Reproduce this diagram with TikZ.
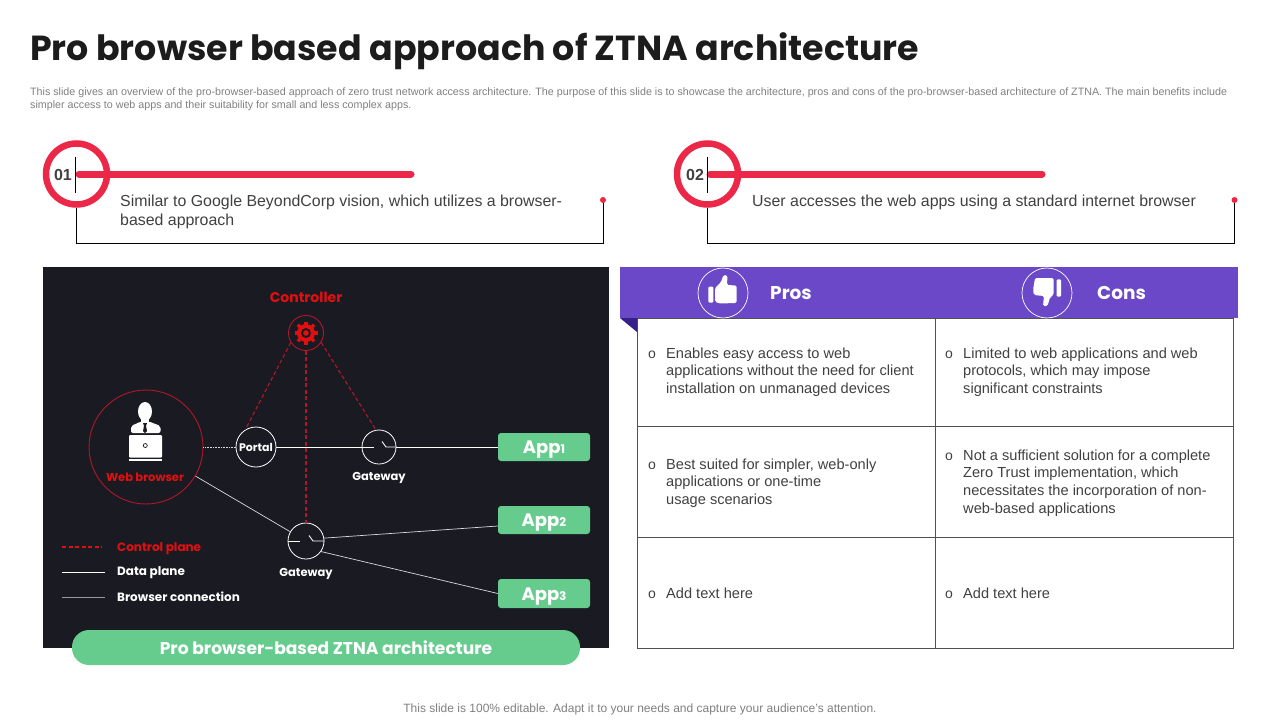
\documentclass[tikz,border=0pt]{standalone}
\usepackage{fontspec}
\usepackage{tikz}
\usetikzlibrary{positioning}
\setmainfont{Liberation Sans}
\newfontfamily\headfont{Poppins}
\definecolor{TitleBlack}{HTML}{1C1C1C}
\definecolor{BodyGray}{HTML}{404040}
\definecolor{NoteGray}{HTML}{7F7F7F}
\definecolor{StepRed}{HTML}{EC2848}
\definecolor{PanelDark}{HTML}{1A1A22}
\definecolor{AppGreen}{HTML}{66CC8E}
\definecolor{CtrlRed}{HTML}{E01010}
\definecolor{CtrlLine}{HTML}{B01828}
\definecolor{BandPurple}{HTML}{6A48C8}
\definecolor{FoldPurple}{HTML}{35208A}
\definecolor{GridGray}{HTML}{505050}
\newcommand{\px}[1]{\fontsize{#1}{#1}\selectfont}
\newcommand{\switchMark}[1]{%
\draw[dataline] (#1.west) -- ++(12,0);
\draw[dataline] ([shift={(3,-5.5)}]#1.center) -- ([shift={(7,0)}]#1.center) -- (#1.east);
}
\tikzset{
  every node/.style={inner sep=0pt},
  para/.style={anchor=north west, align=left, text=BodyGray, font=\px{14.6}, execute at begin node=\setlength{\baselineskip}{17.6pt}},
  steptext/.style={anchor=north west, align=left, text=BodyGray, font=\px{15.9}, execute at begin node=\setlength{\baselineskip}{19pt}},
  bullet/.style={anchor=center, text=BodyGray, font=\px{14}},
  stepring/.style={circle, draw=StepRed, line width=6.5pt, minimum size=61pt},
  stepbar/.style={draw=StepRed, line width=7pt, line cap=round},
  stepframe/.style={draw=black, line width=0.8pt},
  stepdot/.style={circle, fill=StepRed, minimum size=6pt},
  darklabel/.style={text=white, font=\headfont\bfseries\px{11.5}},
  redlabel/.style={text=CtrlRed, font=\headfont\bfseries\px{11.5}},
  hub/.style={circle, draw=white, line width=0.8pt, fill=PanelDark},
  appbox/.style={fill=AppGreen, rounded corners=3pt, minimum width=92pt, text=white, font=\headfont\bfseries\px{18}, text height=13.5pt, text depth=0pt},
  dataline/.style={draw=white, line width=0.9pt},
  browserline/.style={draw=white!85!black, line width=0.7pt},
  ctrlline/.style={draw=CtrlLine, line width=1.1pt, dash pattern=on 4pt off 2.5pt},
  bandlabel/.style={text=white, font=\headfont\bfseries\px{18.5}, anchor=west},
  iconring/.style={circle, draw=white, line width=0.7pt, minimum size=50pt},
}
\begin{document}
\begin{tikzpicture}[x=1pt, y=-1pt]
\useasboundingbox (0,0) rectangle (1280,720);

% Title and description
\node[anchor=west, text=TitleBlack, font=\headfont\bfseries\px{34.8}] (title) at (30,51.5) {Pro browser based approach of ZTNA architecture};
\node[anchor=north west, align=left, text=NoteGray, font=\px{10.7}, execute at begin node=\setlength{\baselineskip}{13pt}] (intro) at (30,87.5)
{This slide gives an overview of the pro-browser-based approach of zero trust network access architecture. The purpose of this slide is to showcase the architecture, pros and cons of the pro-browser-based architecture of ZTNA. The main benefits include\\
simpler access to web apps and their suitability for small and less complex apps.};

% Step 01
\def \yBar {174}
\draw[stepframe] (76.5,208) -- (76.5,243) -- (603,243) -- (603,200);
\draw[stepbar] (79,\yBar) -- (411,\yBar);
\node[stepring] (ringA) at (76.5,\yBar) {};
\node[font=\bfseries\px{16}, text=BodyGray] (numA) at (63,175) {01};
\draw[black, line width=0.7pt] (75,157) -- (75,193);
\node[stepdot] (dotA) at (603,200) {};
\node[steptext] (textA) at (120,195) {Similar to Google BeyondCorp vision, which utilizes a browser-\\based approach};

% Step 02
\draw[stepframe] (707.5,208) -- (707.5,243) -- (1234.5,243) -- (1234.5,200);
\draw[stepbar] (710,\yBar) -- (1042,\yBar);
\node[stepring] (ringB) at (707.5,\yBar) {};
\node[font=\bfseries\px{16}, text=BodyGray] (numB) at (695,175) {02};
\draw[black, line width=0.7pt] (707,157) -- (707,193);
\node[stepdot] (dotB) at (1234.5,200) {};
\node[steptext] (textB) at (752,195) {User accesses the web apps using a standard internet browser};

% Dark panel
\fill[PanelDark] (43,267) rectangle (609,648);
\node[fill=AppGreen, rounded corners=17pt, minimum width=508pt, minimum height=35pt, text=white, font=\headfont\bfseries\px{17.1}] (caption) at (326,647.5) {Pro browser-based ZTNA architecture};

% Architecture nodes
\node[circle, draw=CtrlLine, line width=0.9pt, minimum size=114pt] (web) at (146,447) {};
\node[circle, draw=CtrlLine, line width=0.9pt, minimum size=35pt] (gear) at (306,333) {};
\node[hub, minimum size=40pt, text=white, font=\headfont\bfseries\px{11}] (portal) at (256,447) {Portal};
\node[hub, minimum size=34pt] (gatewayA) at (379,447) {};
\node[hub, minimum size=36pt] (gatewayB) at (306,541) {};
\node[appbox, minimum height=28pt] (appA) at (544,447) {App\px{12}1};
\node[appbox, minimum height=28pt] (appB) at (544,520) {App\px{12}2};
\node[appbox, minimum height=29pt] (appC) at (544,593.5) {App\px{12}3};
\coordinate (appBin) at (498,526);

\node[redlabel, font=\headfont\bfseries\px{14}] (ctrlLabel) at (306,297) {Controller};
\node[redlabel] (webLabel) at (145,477) {Web browser};
\node[darklabel] (gateLabelA) at (379,478) {Gateway};
\node[darklabel] (gateLabelB) at (306,574) {Gateway};

% Control plane lines
\draw[ctrlline] (gear.212) -- (portal.122);
\draw[ctrlline] (gear.south) -- (gatewayB.north);
\draw[ctrlline] (gear.-32) -- (gatewayA.100);

% Data plane lines
\draw[dataline] (portal) -- (gatewayA);
\draw[dataline] (gatewayA) -- (appA);
\draw[browserline, dash pattern=on 1pt off 0.6pt] (web) -- (portal);
\draw[browserline] (web) -- (gatewayB);
\draw[browserline] (gatewayB.9) -- (appBin);
\draw[browserline] (gatewayB.-35) -- (appC.west);

% Switches
\switchMark{gatewayA}
\switchMark{gatewayB}

% Gear icon
\foreach \ang in {0,45,...,315} {
  \draw[CtrlRed, line width=3.2pt] (306,333) -- ++(\ang:11.5);
}
\fill[CtrlRed] (306,333) circle (9);
\fill[PanelDark] (306,333) circle (5);
\fill[CtrlRed] (306,333) circle (2.8);

% Person with laptop
\fill[white] (145,411.5) ellipse (7 and 9.5);
\fill[white] (141,418) rectangle (149,424);
\fill[white, rounded corners=2pt] (131,433) -- (131,426) -- (141,421.5) -- (149,421.5) -- (160.5,426) -- (160.5,433) -- cycle;
\fill[PanelDark] (143,423) -- (147,423) -- (146,426) -- (147,431) -- (145,433) -- (143,431) -- (144,426) -- cycle;
\fill[white, rounded corners=1pt] (129,435) rectangle (162,457.5);
\draw[PanelDark, line width=0.7pt] (145.3,445.5) circle (2);
\fill[white] (129,459) rectangle (162,461);

% Legend
\coordinate (legA) at (62,547);
\coordinate (legAend) at (102,547);
\coordinate (legB) at (62,572);
\coordinate (legBend) at (105,572);
\coordinate (legC) at (62,597);
\coordinate (legCend) at (105,597);
\draw[draw=CtrlRed, line width=1.3pt, dash pattern=on 4pt off 2.5pt] (legA) -- (legAend);
\draw[dataline] (legB) -- (legBend);
\draw[browserline, draw=gray!80, line width=0.6pt] (legC) -- (legCend);
\node[redlabel, anchor=west, font=\headfont\bfseries\px{12}] (legTextA) at (117,548.5) {Control plane};
\node[darklabel, anchor=west, font=\headfont\bfseries\px{12}] (legTextB) at (117,572.5) {Data plane};
\node[darklabel, anchor=west, font=\headfont\bfseries\px{12}] (legTextC) at (117,596.5) {Browser connection};

% Pros and cons table
\draw[GridGray, line width=0.8pt] (637,318) rectangle (1233,648.5);
\draw[GridGray, line width=0.8pt] (935,318) -- (935,648.5);
\draw[GridGray, line width=0.8pt] (637,426) -- (1233,426);
\draw[GridGray, line width=0.8pt] (637,537) -- (1233,537);

% Purple band
\fill[FoldPurple] (620,318) -- (637,318) -- (637,332) -- cycle;
\fill[BandPurple] (620,267) rectangle (1238,318);
\node[iconring] (ringPros) at (723,293) {};
\node[iconring] (ringCons) at (1047,293) {};
\node[bandlabel] (labelPros) at (770,293) {Pros};
\node[bandlabel] (labelCons) at (1097,293) {Cons};

% Thumb up
\fill[white, rounded corners=1pt] (708.3,286.7) rectangle (713.3,302.5);
\fill[white, rounded corners=1.5pt] (715,288) -- (721,282) -- (723.5,275) -- (727.5,275.5) -- (727,285) -- (736.5,285.5) -- (736.5,303) -- (719,303.5) -- (715,301.5) -- cycle;

% Thumb down
\fill[white, rounded corners=1pt] (1056.7,279.3) rectangle (1061,296.7);
\fill[white, rounded corners=1.5pt] (1035,278) -- (1053.5,278) -- (1053.5,295) -- (1050,297.5) -- (1047.5,306) -- (1043,306) -- (1044,296) -- (1034,295) -- (1033,290) -- cycle;

% Table texts
\node[bullet] (bulletA) at (652,355) {o};
\node[para] (prosA) at (666,347.5) {Enables easy access to web\\applications without the need for client\\installation on unmanaged devices};
\node[bullet] (bulletB) at (949,355) {o};
\node[para] (consA) at (963,347.5) {Limited to web applications and web\\protocols, which may impose\\significant constraints};
\node[bullet] (bulletC) at (652,466) {o};
\node[para] (prosB) at (666,458.5) {Best suited for simpler, web-only\\applications or one-time\\usage scenarios};
\node[bullet] (bulletD) at (949,457) {o};
\node[para] (consB) at (963,449.5) {Not a sufficient solution for a complete\\Zero Trust implementation, which\\necessitates the incorporation of non-\\web-based applications};
\node[bullet] (bulletE) at (652,595) {o};
\node[para] (prosC) at (666,587.5) {Add text here};
\node[bullet] (bulletF) at (949,595) {o};
\node[para] (consC) at (963,587.5) {Add text here};

% Footer
\node[text=NoteGray, font=\px{12}] (footer) at (640,709) {This slide is 100\% editable. Adapt it to your needs and capture your audience's attention.};

\end{tikzpicture}
\end{document}
